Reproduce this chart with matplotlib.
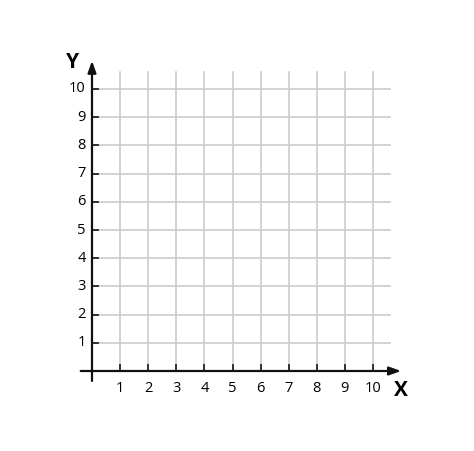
import matplotlib
matplotlib.use("Agg")
import matplotlib.pyplot as plt

X_TICKS = [1, 2, 3, 4, 5, 6, 7, 8, 9, 10]
Y_TICKS = [1, 2, 3, 4, 5, 6, 7, 8, 9, 10]
GRID_END = 10.6
AXIS_END = 11.1

plt.rcParams["font.family"] = ["Open Sans", "DejaVu Sans"]

fig = plt.figure(figsize=(4.74, 4.51), dpi=100)
ax = fig.add_axes([0, 0, 1, 1])
ax.set_xlim(-92 / 28.1, (474 - 92) / 28.1)
ax.set_ylim(-80 / 28.2, 371 / 28.2)
ax.axis("off")

grid_kw = dict(color="#cccccc", lw=1.2, zorder=1)
for x in X_TICKS:
    ax.plot([x, x], [0, GRID_END], **grid_kw)
    ax.plot([x, x], [0, 0.2], color="#222222", lw=1.3, zorder=3)
    ax.text(x, -0.62, str(x), ha="center", va="center", fontsize=10.5)
for y in Y_TICKS:
    ax.plot([0, GRID_END], [y, y], **grid_kw)
    ax.plot([0, 0.2], [y, y], color="#222222", lw=1.3, zorder=3)
    ax.text(-0.22, y, str(y), ha="right", va="center", fontsize=10.5)

arrow_kw = dict(arrowstyle="-|>,head_length=0.7,head_width=0.25", color="#111111", lw=1.6)
ax.annotate("", xy=(AXIS_END, 0), xytext=(-0.5, 0), arrowprops=arrow_kw, zorder=4)
ax.annotate("", xy=(0, AXIS_END), xytext=(0, -0.45), arrowprops=arrow_kw, zorder=4)

ax.text(11.0, -0.68, "X", ha="center", va="center", fontsize=15, fontweight="bold")
ax.text(-0.7, 10.95, "Y", ha="center", va="center", fontsize=15, fontweight="bold")

fig.savefig("out.png", dpi=100)
